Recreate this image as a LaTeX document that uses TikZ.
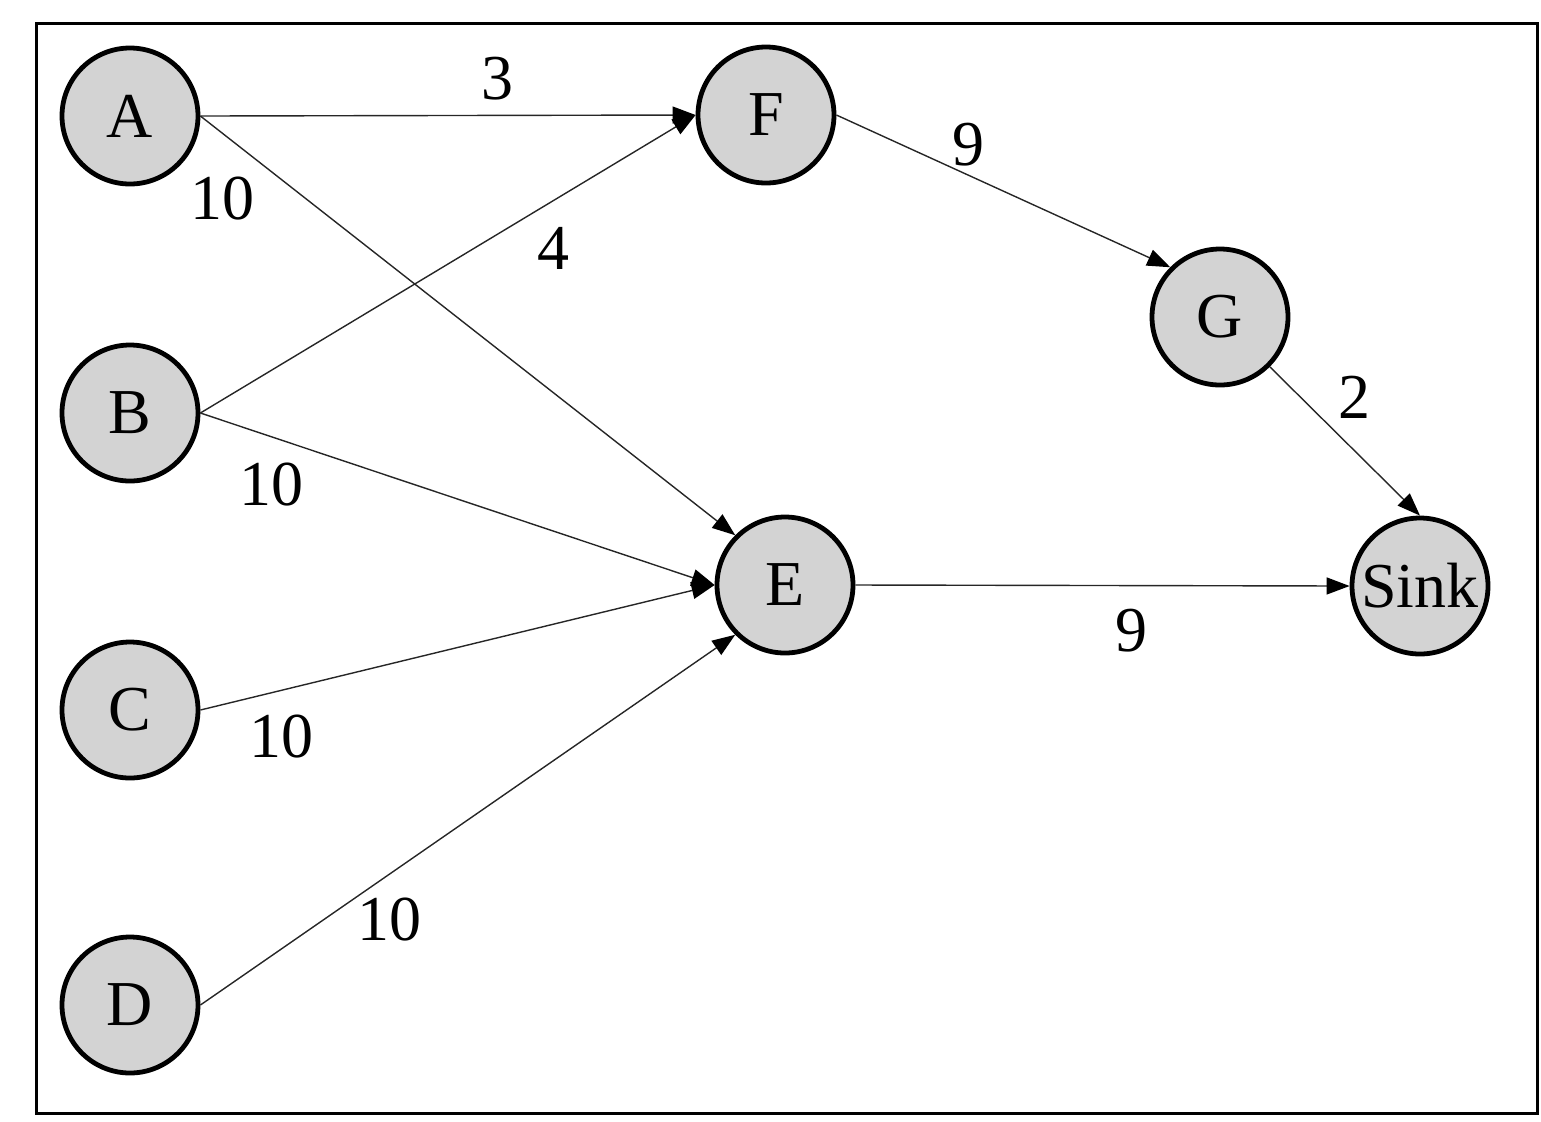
\documentclass[tikz,border=0pt]{standalone}
\usepackage{fontspec}
\setmainfont{Liberation Serif}
\usetikzlibrary{arrows.meta}
\definecolor{nodegray}{RGB}{211,211,211}
\tikzset{
  vertex/.style={circle, draw=black, line width=2.4pt, fill=nodegray, minimum size=68pt, inner sep=0pt, font=\fontsize{32}{38}\selectfont},
  edge/.style={draw=black!85, line width=0.7pt, -{Triangle[length=11.5pt,width=8.5pt,color=black]}},
  wlabel/.style={font=\fontsize{32}{38}\selectfont, inner sep=0pt}
}
\begin{document}
\begin{tikzpicture}[x=0.5pt, y=-0.5pt]
\useasboundingbox (0,0) rectangle (1541,1121);
\draw[line width=1.5pt] (36,23) rectangle (1537,1113);
\node[vertex] (A) at (130,116) {A};
\node[vertex] (B) at (130,413) {B};
\node[vertex] (C) at (130,710) {C};
\node[vertex] (D) at (130,1005) {D};
\node[vertex] (F) at (766,115) {F};
\node[vertex] (E) at (785,585) {E};
\node[vertex] (G) at (1220,317) {G};
\node[vertex] (S) at (1420,586) {Sink};
\draw[edge] (A.east) -- (F.west);
\draw[edge] (A.east) -- (E.north west);
\draw[edge] (B.east) -- (F.west);
\draw[edge] (B.east) -- (E.west);
\draw[edge] (C.east) -- (E.west);
\draw[edge] (D.east) -- (E.south west);
\draw[edge] (F.east) -- (G.north west);
\draw[edge] (G.south east) -- (S.north);
\draw[edge] (E.east) -- (S.west);
\node[wlabel] (l1) at (497,79) {3};
\node[wlabel] (l2) at (222,199) {10};
\node[wlabel] (l3) at (553,248) {4};
\node[wlabel] (l4) at (271,485) {10};
\node[wlabel] (l5) at (281,737) {10};
\node[wlabel] (l6) at (389,920) {10};
\node[wlabel] (l7) at (968,145) {9};
\node[wlabel] (l8) at (1354,397) {2};
\node[wlabel] (l9) at (1131,631) {9};
\end{tikzpicture}
\end{document}
